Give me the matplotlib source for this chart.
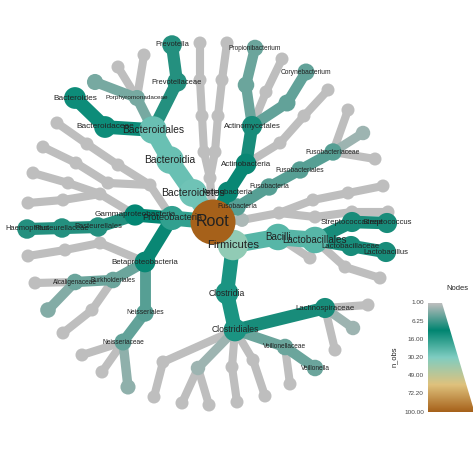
import numpy as np
import matplotlib
matplotlib.use('Agg')
import matplotlib.pyplot as plt
from matplotlib.colors import LinearSegmentedColormap
from matplotlib.patches import Circle, Polygon

# taxa: id, parent id, label ('' = no label), n_obs
node_ids = [
    'root',
    # Bacteroidetes
    'b0', 'b1', 'b2', 'b3', 'b4', 'b5', 'b6', 'b7', 'b8', 'b9', 'b10',
    # unnamed phylum on top
    'v0', 'v1', 'v2', 'v3', 'v4', 'v5', 'v6', 'v7', 'v8',
    # Actinobacteria
    'a0', 'a1', 'a2', 'a3', 'a4', 'a5', 'a6', 'a7', 'a8', 'a9', 'a10', 'a11',
    # Fusobacteria
    'f0', 'f1', 'f2', 'f3', 'f4', 'f5', 'f6',
    # unnamed phylum on the right
    'r0', 'r1', 'r2', 'r3', 'r4', 'r5', 'r6', 'r7',
    # Firmicutes
    'm0', 'm1', 'm2', 'm3', 'm4', 'm5', 'm6', 'm7', 'm8', 'm9',
    'm10', 'm11', 'm12', 'm13', 'm14', 'm15', 'm16', 'm17', 'm18', 'm19',
    'm20', 'm21', 'm22', 'm23', 'm24', 'm25', 'm26', 'm27',
    # Proteobacteria
    'p0', 'g0', 'g1', 'g2', 'g3', 'g4', 'g5', 'g6',
    'p1', 'p2', 'p3', 'p4', 'q0', 'q1', 'q2', 'q3', 'q4',
    'p6', 'p7', 'p8', 'p9', 'p10', 'p11', 'p12', 'p13', 'p14', 'p15', 'p16',
    'p17', 'p18', 'p19', 'p20',
]
node_parents = [
    None,
    'root', 'b0', 'b1', 'b2', 'b3', 'b2', 'b5', 'b2', 'b7', 'b7', 'b7',
    'root', 'v0', 'v1', 'v2', 'v3', 'v0', 'v5', 'v6', 'v7',
    'root', 'a0', 'a1', 'a2', 'a3', 'a2', 'a5', 'a2', 'a7', 'a1', 'a9', 'a10',
    'root', 'f0', 'f1', 'f2', 'f3', 'f3', 'f3',
    'root', 'r0', 'r1', 'r2', 'r3', 'r1', 'r5', 'r6',
    'root', 'm0', 'm1', 'm2', 'm3', 'm2', 'm5', 'm1', 'm2', 'm8',
    'm0', 'm10', 'm11', 'm12', 'm12', 'm12', 'm11', 'm16', 'm16', 'm11',
    'm19', 'm11', 'm21', 'm21', 'm11', 'm24', 'm11', 'm26',
    'root', 'p0', 'g0', 'g1', 'g2', 'g0', 'g4', 'g5',
    'p0', 'p1', 'p2', 'p3', 'p1', 'q0', 'q1', 'q0', 'q3',
    'p0', 'p6', 'p7', 'p8', 'p8', 'p7', 'p11', 'p6', 'p13', 'p14', 'p14',
    'p14', 'p6', 'p18', 'p19',
]
node_labels = [
    'Root',
    'Bacteroidetes', 'Bacteroidia', 'Bacteroidales', 'Bacteroidaceae', 'Bacteroides',
    'Prevotellaceae', 'Prevotella', 'Porphyromonadaceae', '', '', '',
    '', '', '', '', '', '', '', '', '',
    'Actinobacteria', 'Actinobacteria', 'Actinomycetales', '', 'Propionibacterium',
    '', '', '', 'Corynebacterium', '', '', '',
    'Fusobacteria', 'Fusobacteria', 'Fusobacteriales', 'Fusobacteriaceae', '', '', '',
    '', '', '', '', '', '', '', '',
    'Firmicutes', 'Bacilli', 'Lactobacillales', 'Streptococcaceae', 'Streptococcus',
    'Lactobacillaceae', 'Lactobacillus', '', '', '',
    'Clostridia', 'Clostridiales', 'Lachnospiraceae', '', '', '', 'Veillonellaceae',
    'Veillonella', '', '',
    '', '', '', '', '', '', '', '',
    'Proteobacteria', '', '', '', '', '', '', '',
    'Gammaproteobacteria', 'Pasteurellales', 'Pasteurellaceae', 'Haemophilus',
    '', '', '', '', '',
    'Betaproteobacteria', 'Burkholderiales', 'Alcaligenaceae', '', '', '', '',
    'Neisseriales', 'Neisseriaceae', '', '',
    '', '', '', '',
]
node_nobs = [
    100,
    27, 26, 26, 12, 12, 8, 8, 3.5, 3.5, 1, 1,
    1, 1, 1, 1, 1, 1, 1, 1, 1,
    10, 10, 9, 4, 4, 1, 1, 4.5, 4.5, 1, 1, 1,
    5, 5, 5, 5, 1, 2, 1,
    1.5, 1, 1, 1, 1, 1, 1, 1,
    35, 23, 23, 9, 9, 9, 9, 1, 1, 1,
    14, 14, 9, 1, 2, 1, 4, 4, 1, 1,
    1, 2, 1, 1, 1, 1, 1, 1,
    17, 1, 1, 1, 1, 1, 1, 1,
    11, 8, 8, 8, 1, 1, 1, 1, 1,
    10, 4, 4, 1, 3, 1, 1, 5, 4.5, 1, 1,
    2.5, 1, 1, 1,
]

# layout of the heat tree (pixel positions, y down)
node_xy = [
    (213, 222),
    (193, 193), (170, 160), (153, 130), (105, 127), (75, 98), (177, 82), (172, 45),
    (137, 98), (95, 82), (118, 67), (144, 55),
    (210, 178), (204, 152), (202, 116), (200, 80), (200, 43),
    (215, 152), (218, 116), (222, 80), (227, 43),
    (228, 192), (246, 164), (252, 126), (246, 85), (255, 48), (266, 92), (282, 59),
    (287, 103), (306, 72), (280, 143), (304, 116), (328, 90),
    (237, 207), (269, 187), (300, 170), (333, 152), (348, 110), (363, 133), (375, 159),
    (242, 220), (279, 213), (313, 200), (348, 193), (383, 186),
    (315, 217), (352, 212), (388, 212),
    (233, 245), (278, 237), (315, 240), (352, 222), (387, 223), (351, 246), (386, 252),
    (310, 258), (345, 267), (380, 278),
    (227, 293), (235, 330), (325, 308), (368, 305), (353, 328), (335, 350),
    (285, 347), (315, 368), (290, 384), (163, 362),
    (154, 397), (198, 368), (182, 403), (209, 405), (232, 367), (237, 402),
    (253, 360), (265, 396),
    (172, 218), (150, 185), (118, 165), (87, 144), (57, 123), (108, 183), (76, 163), (43, 147),
    (135, 215), (98, 227), (62, 228), (27, 229), (100, 194), (68, 183), (33, 173),
    (63, 200), (28, 203),
    (145, 262), (113, 280), (75, 282), (35, 283), (48, 310), (92, 310), (63, 333),
    (145, 313), (123, 342), (82, 355), (102, 372),
    (128, 387), (100, 243), (65, 250), (28, 256),
]

legend_ticks = ['1.00', '6.25', '16.00', '30.20', '49.00', '72.20', '100.00']

cmap = LinearSegmentedColormap.from_list(
    'nobs', ['#BEBEBE', '#018571', '#80CDC1', '#DFC27D', '#A6611A'])

pos = dict(zip(node_ids, node_xy))
par = dict(zip(node_ids, node_parents))
nobs = dict(zip(node_ids, node_nobs))
lab = dict(zip(node_ids, node_labels))


def tval(n):
    return (np.sqrt(n) - 1) / 9


def radius(n):
    return 6.5 + 16 * tval(n)


PT = 0.72  # points per pixel at dpi 100

fig = plt.figure(figsize=(4.74, 4.55), dpi=100)
ax = fig.add_axes([0, 0, 1, 1])
ax.set_xlim(0, 474)
ax.set_ylim(455, 0)
ax.axis('off')

order = sorted(node_ids, key=lambda k: nobs[k])

# edges
for k in order:
    if par[k] is None:
        continue
    x0, y0 = pos[par[k]]
    x1, y1 = pos[k]
    ax.plot([x0, x1], [y0, y1], color=cmap(tval(nobs[k])),
            lw=1.25 * radius(nobs[k]) * PT, solid_capstyle='round', zorder=1)

# nodes
for k in order:
    ax.add_patch(Circle(pos[k], radius(nobs[k]), color=cmap(tval(nobs[k])),
                        lw=0, zorder=2))

# labels
for k in order:
    if lab[k]:
        fs = (1.0 + 0.67 * radius(nobs[k])) * PT
        ax.text(pos[k][0], pos[k][1], lab[k], ha='center', va='center',
                fontsize=fs, family='Liberation Sans', color='#222222', zorder=3)

# legend
top, bot, left = 303, 412, 428
grad = np.linspace(0, 1, 256).reshape(-1, 1)
im = ax.imshow(grad, cmap=cmap, extent=(left, 474, bot, top), aspect='auto', zorder=4)
wedge = Polygon([(left, top), (442, top), (473, 407), (473, bot), (left, bot)],
                closed=True, transform=ax.transData, fc='none', ec='none')
ax.add_patch(wedge)
im.set_clip_path(wedge)
for i, t in enumerate(legend_ticks):
    y = top + (bot - top) * i / (len(legend_ticks) - 1)
    ax.text(424, y, t, ha='right', va='center', fontsize=4.6,
            family='Liberation Sans', color='#444444')
ax.text(457, 288, 'Nodes', ha='center', va='center', fontsize=5.4,
        family='Liberation Sans', color='#222222')
ax.text(394, 357, 'n_obs', ha='center', va='center', rotation=90, fontsize=5.4,
        family='Liberation Sans', color='#222222')

fig.savefig('out.png', dpi=100)
